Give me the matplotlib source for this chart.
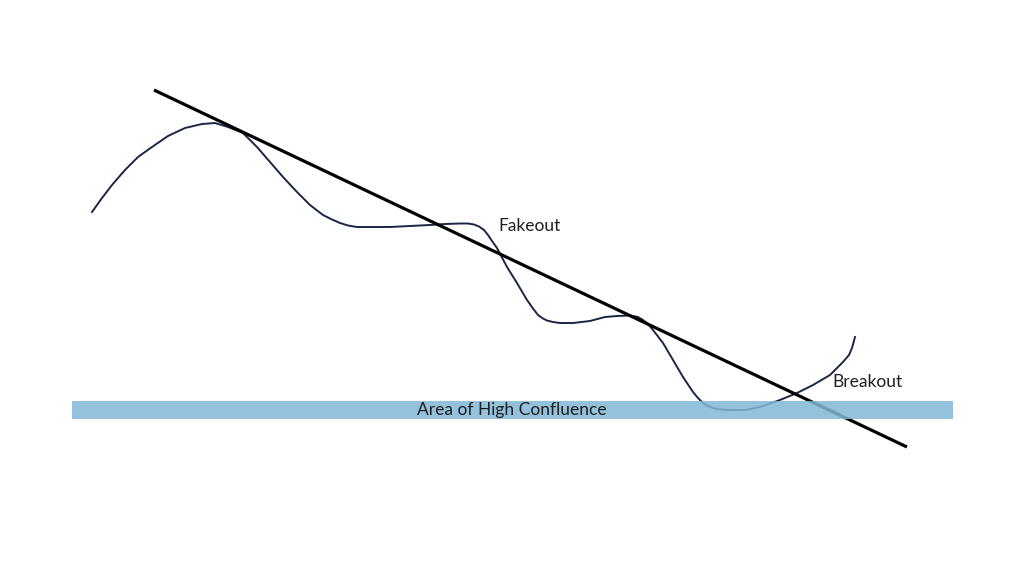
import matplotlib
matplotlib.use("Agg")
import matplotlib.pyplot as plt

# price path (x, level); level grows downward like the image
path_x = [92, 102, 112, 125, 138, 152, 168, 185, 202, 215, 228, 243, 257, 270,
          283, 297, 310, 323, 332, 340, 348, 357, 373, 390, 410, 430, 445, 460,
          468, 474, 479, 484, 488, 492, 497, 507, 517, 527, 533, 538, 543, 547,
          553, 560, 573, 590, 605, 617, 630, 638, 643, 648, 653, 663, 673, 683,
          693, 698, 703, 708, 713, 720, 730, 745, 760, 780, 797, 813, 830, 843,
          849, 852, 855]
path_y = [212, 198, 185, 170, 157, 147, 136, 128, 124, 123, 127, 133, 147, 162,
          177, 192, 205, 215, 219.5, 223, 225.5, 227, 227, 227, 226, 225, 224, 223.5,
          223.5, 224.5, 226.5, 230, 235, 241, 248, 267, 283, 300, 308.5, 315, 318.5, 320.5,
          322, 323, 323, 321, 317, 316, 315.5, 317, 320, 324, 330, 343, 360, 377,
          392, 398, 403, 406, 408, 409.5, 410, 410, 407, 400, 393, 385, 375, 362,
          355, 348, 337]

# descending trendline end points
trend_x = [154, 907]
trend_y = [90, 447]

# support zone
zone_x = [72, 953]
zone_y = [401, 419]

labels = ["Fakeout", "Breakout", "Area of High Confluence"]
label_x = [529, 867, 512]
label_y = [226, 382, 410]

fig = plt.figure(figsize=(10.24, 5.76), dpi=100)
ax = fig.add_axes([0, 0, 1, 1])
ax.set_xlim(0, 1024)
ax.set_ylim(576, 0)
ax.axis("off")

ax.plot(path_x, path_y, color="#1b2645", linewidth=1.4,
        solid_joinstyle="round", zorder=2)
ax.plot(trend_x, trend_y, color="black", linewidth=2.3,
        solid_capstyle="butt", zorder=3)
ax.fill_between(zone_x, zone_y[0], zone_y[1], color="#81b8d6",
                alpha=0.85, linewidth=0, zorder=4)

for t, x, y in zip(labels, label_x, label_y):
    ax.text(x, y, t, ha="center", va="center", fontsize=12.5,
            family="Lato", color="#1e1e1e", zorder=5)

fig.savefig("out.png", dpi=100, facecolor="white")
